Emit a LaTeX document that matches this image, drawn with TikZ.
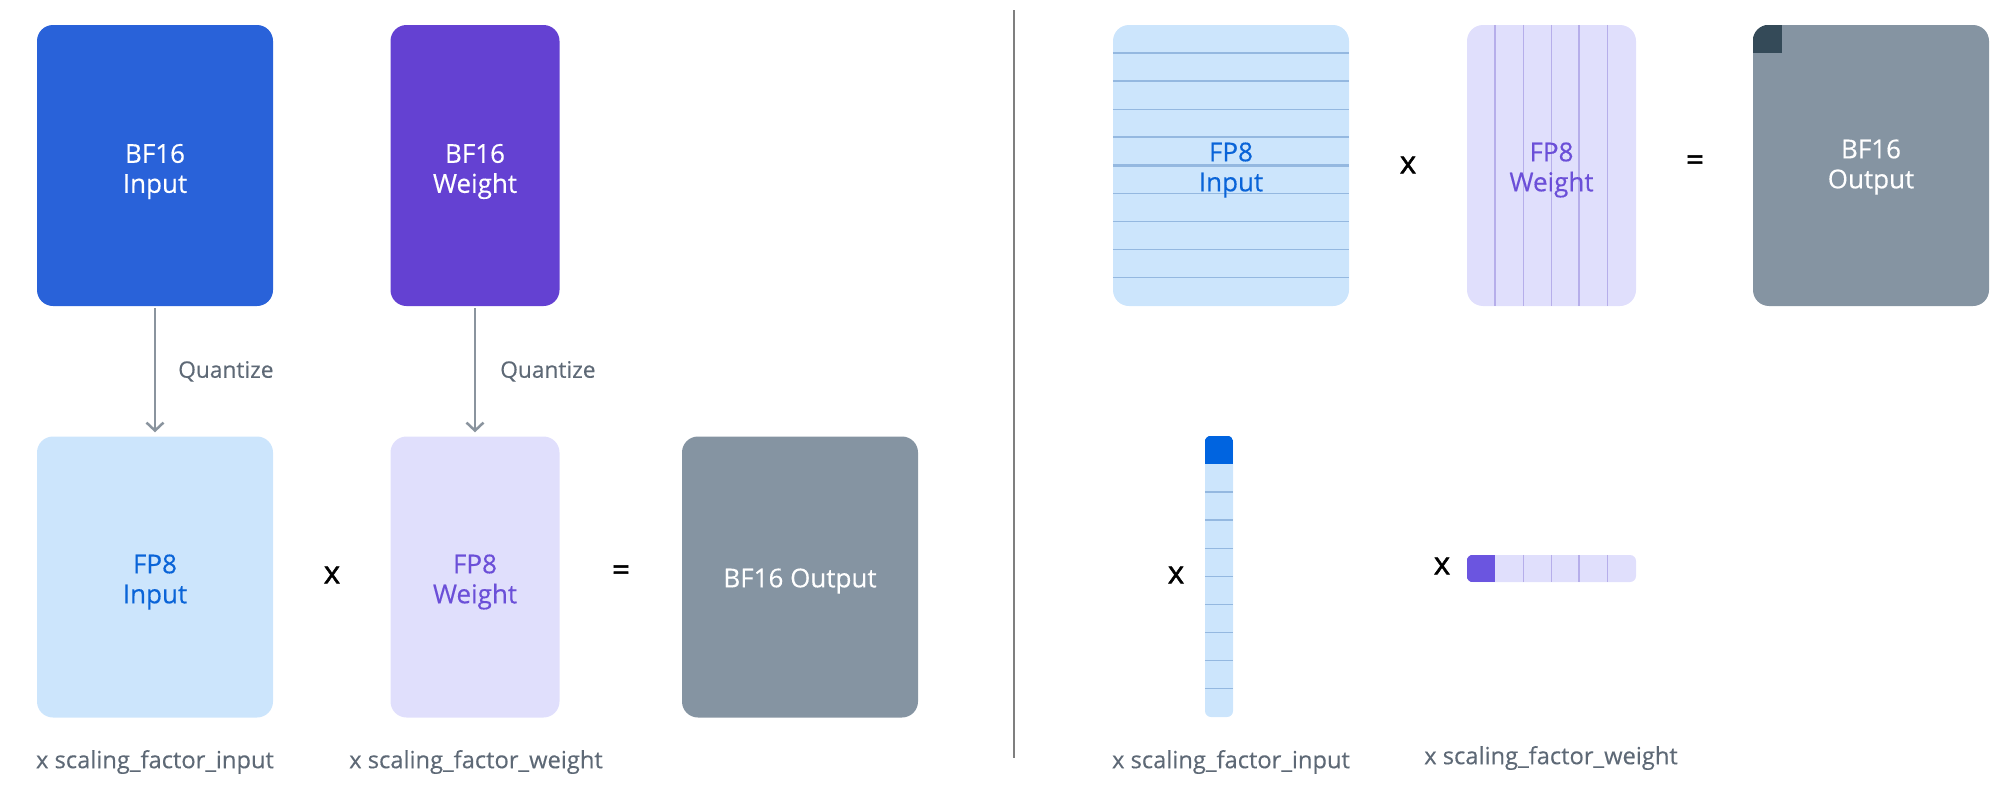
\documentclass[tikz,border=0pt]{standalone}
\usepackage{fontspec}
\setmainfont[FakeBold=0.3]{Open Sans}
\newfontfamily\opfont[FakeBold=1.6]{Open Sans}
\usetikzlibrary{arrows.meta}
\definecolor{bfblue}{HTML}{2962D9}
\definecolor{bfpurple}{HTML}{6441D2}
\definecolor{fpblue}{HTML}{CCE5FC}
\definecolor{fpbluetext}{HTML}{0A64D8}
\definecolor{fppurple}{HTML}{E0DFFC}
\definecolor{fppurpletext}{HTML}{6B4FD8}
\definecolor{outgray}{HTML}{8594A2}
\definecolor{outdark}{HTML}{344A58}
\definecolor{arrowgray}{HTML}{8A949E}
\definecolor{labelgray}{HTML}{5E6976}
\definecolor{bluegrid}{HTML}{94B8E0}
\definecolor{purplegrid}{HTML}{B6AEEA}
\definecolor{vecblue}{HTML}{0064E0}
\definecolor{vecpurple}{HTML}{6B55E0}
\definecolor{divgray}{HTML}{7F7F7F}
\begin{document}
\begin{tikzpicture}[x=1pt,y=-1pt,
  tallbox/.style={rectangle, rounded corners=16pt, inner sep=0pt, minimum height=281pt},
  widebox/.style={tallbox, minimum width=236pt},
  narrowbox/.style={tallbox, minimum width=169pt},
  boxtext/.style={font=\fontsize{26}{30}\selectfont, align=center, inner sep=0pt},
  optext/.style={font=\opfont\fontsize{31}{36}\selectfont, text=black, inner sep=0pt},
  captext/.style={font=\fontsize{23.7}{28}\selectfont, text=labelgray, inner sep=0pt},
  qtext/.style={font=\fontsize{22.7}{27}\selectfont, text=labelgray, inner sep=0pt},
  arr/.style={draw=arrowgray, line width=2.5pt, -{Straight Barb[length=8pt,width=17pt,line width=2.5pt]}},
  gridb/.style={draw=bluegrid, line width=1.2pt},
  gridbthick/.style={draw=bluegrid, line width=2.4pt},
  gridp/.style={draw=purplegrid, line width=1.2pt},
  gridpthick/.style={draw=purplegrid, line width=2pt},
  vecbox/.style={rectangle, rounded corners=6pt, inner sep=0pt}
]
\useasboundingbox (0,0) rectangle (1990,811);

% ---------- left half ----------
\node[widebox, fill=bfblue] (bi) at (155,165.5) {};
\node[boxtext, text=white] (bit) at (155,171.5) {BF16\\Input};
\node[narrowbox, fill=bfpurple] (bw) at (475,165.5) {};
\node[boxtext, text=white] (bwt) at (475,171.5) {BF16\\Weight};
\node[widebox, fill=fpblue] (fi) at (155,577) {};
\node[boxtext, text=fpbluetext] (fit) at (155,582) {FP8\\Input};
\node[narrowbox, fill=fppurple] (fw) at (475,577) {};
\node[boxtext, text=fppurpletext] (fwt) at (475,582) {FP8\\Weight};
\node[widebox, fill=outgray] (bo) at (800,577) {};
\node[boxtext, text=white] (bot) at (800,581) {BF16 Output};

\draw[arr, shorten <=2pt, shorten >=4pt] (bi) -- (fi)
  node[qtext, pos=0.47, anchor=west, xshift=22pt, yshift=-4pt] (q1) {Quantize};
\draw[arr, shorten <=2pt, shorten >=4pt] (bw) -- (fw)
  node[qtext, pos=0.47, anchor=west, xshift=24pt, yshift=-4pt] (q2) {Quantize};

\node[optext] (mx1) at (332,575) {x};
\node[optext] (eq1) at (621,573) {=};

\node[captext] (sl1) at (155,762) {x scaling\_factor\_input};
\node[captext] (sw1) at (476,762) {x scaling\_factor\_weight};

% ---------- divider ----------
\coordinate (dtop) at (1014,10);
\coordinate (dbot) at (1014,758);
\draw[divgray, line width=2.2pt] (dtop) -- (dbot);

% ---------- right half ----------
\node[widebox, fill=fpblue] (fi2) at (1231,165.5) {};
\foreach \k in {1,2,3,6,7,8,9}
  \draw[gridb] (fi2.north west) ++(0,28.1*\k) -- ++(236,0);
\foreach \k in {4,5}
  \draw[gridbthick] (fi2.north west) ++(0,28.1*\k) -- ++(236,0);
\node[boxtext, text=fpbluetext] (fi2t) at (1231,170) {FP8\\Input};

\node[optext] (mx2) at (1408,165) {x};

\node[narrowbox, fill=fppurple] (fw2) at (1551.5,165.5) {};
\foreach \k in {1,2,3,5}
  \draw[gridp] (fw2.north west) ++(28.17*\k,0) -- ++(0,281);
\draw[gridpthick] (fw2.north west) ++(28.17*4,0) -- ++(0,281);
\node[boxtext, text=fppurpletext] (fw2t) at (1551.5,170) {FP8\\Weight};

\node[optext] (eq2) at (1695,163) {=};

\node[widebox, fill=outgray] (bo2) at (1871,165.5) {};
\begin{scope}
  \clip[rounded corners=16pt] (bo2.north west) rectangle (bo2.south east);
  \fill[outdark] (bo2.north west) rectangle ++(29,28);
\end{scope}
\node[boxtext, text=white] (bo2t) at (1871,167) {BF16\\Output};

% scaling vectors
\node[vecbox, fill=fpblue, minimum width=28pt, minimum height=281pt] (siv) at (1219,576.5) {};
\begin{scope}
  \clip[rounded corners=6pt] (siv.north west) rectangle (siv.south east);
  \fill[vecblue] (siv.north west) rectangle ++(28,28.1);
\end{scope}
\foreach \k in {4,...,9}
  \draw[gridb] (siv.north west) ++(0,28.1*\k) -- ++(28,0);
\foreach \k in {2,3}
  \draw[gridbthick] (siv.north west) ++(0,28.1*\k) -- ++(28,0);
\node[optext] (mx3) at (1176,575) {x};

\node[vecbox, fill=fppurple, minimum width=169pt, minimum height=27pt] (swv) at (1551.5,568.5) {};
\begin{scope}
  \clip[rounded corners=6pt] (swv.north west) rectangle (swv.south east);
  \fill[vecpurple] (swv.north west) rectangle ++(28.17,27);
\end{scope}
\foreach \k in {2,3,5}
  \draw[gridp] (swv.north west) ++(28.17*\k,0) -- ++(0,27);
\draw[gridpthick] (swv.north west) ++(28.17*4,0) -- ++(0,27);
\node[optext] (mx4) at (1442,566) {x};

\node[captext] (sl2) at (1231,762) {x scaling\_factor\_input};
\node[captext] (sw2) at (1551,758) {x scaling\_factor\_weight};
\end{tikzpicture}
\end{document}
